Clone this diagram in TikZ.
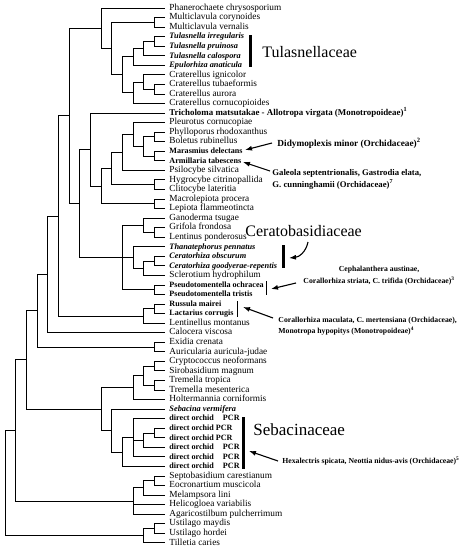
\documentclass[tikz,border=0pt]{standalone}
\usepackage{fontspec}
\setmainfont{Liberation Serif}
\usetikzlibrary{arrows.meta}
\begin{document}
\begin{tikzpicture}[x=1pt, y=-1pt, line width=.9pt,
  leaf/.style={anchor=west, inner xsep=4pt, inner ysep=0pt, text height=6.5pt, text depth=2pt, font=\fontsize{9.3}{10}\selectfont},
  leafb/.style={leaf, font=\fontsize{8.1}{10}\selectfont\bfseries},
  leafbi/.style={leaf, font=\fontsize{8.3}{10}\selectfont\bfseries\itshape},
  family/.style={anchor=west, inner sep=0pt, font=\fontsize{16}{18}\selectfont},
  note/.style={inner sep=0pt, font=\fontsize{7.7}{11.5}\selectfont\bfseries},
  bar/.style={line width=3pt},
  thinbar/.style={line width=1pt},
  arr/.style={-{Latex[length=7pt,width=5pt]}, line width=1.1pt}]
\useasboundingbox (0,0) rectangle (474,555);
\begin{scope}[x=10.667pt, y=-9.55pt, xshift=5pt, yshift=1.55pt]
% leaves
\node[leaf] (lf1) at (15,1) {Phanerochaete chrysosporium};
\node[leaf] (lf2) at (15,2) {Multiclavula corynoides};
\node[leaf] (lf3) at (15,3) {Multiclavula vernalis};
\node[leafbi] (lf4) at (15,4) {Tulasnella irregularis};
\node[leafbi] (lf5) at (15,5) {Tulasnella pruinosa};
\node[leafbi] (lf6) at (15,6) {Tulasnella calospora};
\node[leafbi] (lf7) at (15,7) {Epulorhiza anaticula};
\node[leaf] (lf8) at (15,8) {Craterellus ignicolor};
\node[leaf] (lf9) at (15,9) {Craterellus tubaeformis};
\node[leaf] (lf10) at (15,10) {Craterellus aurora};
\node[leaf] (lf11) at (15,11) {Craterellus cornucopioides};
\node[leafb, font=\fontsize{8.9}{10}\selectfont\bfseries] (lf12) at (15,12) {Tricholoma matsutakae - Allotropa virgata (Monotropoideae)\textsuperscript{1}};
\node[leaf] (lf13) at (15,13) {Pleurotus cornucopiae};
\node[leaf] (lf14) at (15,14) {Phylloporus rhodoxanthus};
\node[leaf] (lf15) at (15,15) {Boletus rubinellus};
\node[leafb] (lf16) at (15,16) {Marasmius delectans};
\node[leafb] (lf17) at (15,17) {Armillaria tabescens};
\node[leaf] (lf18) at (15,18) {Psilocybe silvatica};
\node[leaf] (lf19) at (15,19) {Hygrocybe citrinopallida};
\node[leaf] (lf20) at (15,20) {Clitocybe lateritia};
\node[leaf] (lf21) at (15,21) {Macrolepiota procera};
\node[leaf] (lf22) at (15,22) {Lepiota flammeotincta};
\node[leaf] (lf23) at (15,23) {Ganoderma tsugae};
\node[leaf] (lf24) at (15,24) {Grifola frondosa};
\node[leaf] (lf25) at (15,25) {Lentinus ponderosus};
\node[leafbi] (lf26) at (15,26) {Thanatephorus pennatus};
\node[leafbi] (lf27) at (15,27) {Ceratorhiza obscurum};
\node[leafbi] (lf28) at (15,28) {Ceratorhiza goodyerae-repentis};
\node[leaf] (lf29) at (15,29) {Sclerotium hydrophilum};
\node[leafb] (lf30) at (15,30) {Pseudotomentella ochracea};
\node[leafb] (lf31) at (15,31) {Pseudotomentella tristis};
\node[leafb] (lf32) at (15,32) {Russula mairei};
\node[leafb] (lf33) at (15,33) {Lactarius corrugis};
\node[leaf] (lf34) at (15,34) {Lentinellus montanus};
\node[leaf] (lf35) at (15,35) {Calocera viscosa};
\node[leaf] (lf36) at (15,36) {Exidia crenata};
\node[leaf] (lf37) at (15,37) {Auricularia auricula-judae};
\node[leaf] (lf38) at (15,38) {Cryptococcus neoformans};
\node[leaf] (lf39) at (15,39) {Sirobasidium magnum};
\node[leaf] (lf40) at (15,40) {Tremella tropica};
\node[leaf] (lf41) at (15,41) {Tremella mesenterica};
\node[leaf] (lf42) at (15,42) {Holtermannia corniformis};
\node[leafbi] (lf43) at (15,43) {Sebacina vermifera};
\node[leafb] (lf44) at (15,44) {direct orchid\hspace{7pt} PCR};
\node[leafb] (lf45) at (15,45) {direct orchid PCR};
\node[leafb] (lf46) at (15,46) {direct orchid PCR};
\node[leafb] (lf47) at (15,47) {direct orchid\hspace{7pt} PCR};
\node[leafb] (lf48) at (15,48) {direct orchid\hspace{7pt} PCR};
\node[leafb] (lf49) at (15,49) {direct orchid\hspace{7pt} PCR};
\node[leaf] (lf50) at (15,50) {Septobasidium carestianum};
\node[leaf] (lf51) at (15,51) {Eocronartium muscicola};
\node[leaf] (lf52) at (15,52) {Melampsora lini};
\node[leaf] (lf53) at (15,53) {Helicogloea variabilis};
\node[leaf] (lf54) at (15,54) {Agaricostilbum pulcherrimum};
\node[leaf] (lf55) at (15,55) {Ustilago maydis};
\node[leaf] (lf56) at (15,56) {Ustilago hordei};
\node[leaf] (lf57) at (15,57) {Tilletia caries};
% Tulasnella, Craterellus
\coordinate (cl1) at (14,4.5);
\draw (cl1) |- (lf4);
\draw (cl1) |- (lf5);
\coordinate (cl2) at (13,5.25);
\draw (cl2) |- (cl1);
\draw (cl2) |- (lf6);
\coordinate (cl3) at (12,6.125);
\draw (cl3) |- (cl2);
\draw (cl3) |- (lf7);
\coordinate (cl4) at (14,9.5);
\draw (cl4) |- (lf9);
\draw (cl4) |- (lf10);
\coordinate (cl5) at (13,8.75);
\draw (cl5) |- (lf8);
\draw (cl5) |- (cl4);
\coordinate (cl6) at (12,9.875);
\draw (cl6) |- (cl5);
\draw (cl6) |- (lf11);
\coordinate (cl7) at (11,8);
\draw (cl7) |- (cl3);
\draw (cl7) |- (cl6);
\coordinate (cl8) at (14,2.5);
\draw (cl8) |- (lf2);
\draw (cl8) |- (lf3);
\coordinate (cl9) at (10,5.25);
\draw (cl9) |- (cl8);
\draw (cl9) |- (cl7);
\coordinate (cl10) at (9,3.125);
\draw (cl10) |- (lf1);
\draw (cl10) |- (cl9);
% agarics
\coordinate (cl11) at (14,14.5);
\draw (cl11) |- (lf14);
\draw (cl11) |- (lf15);
\coordinate (cl12) at (14,16.5);
\draw (cl12) |- (lf16);
\draw (cl12) |- (lf17);
\coordinate (cl13) at (13,15.5);
\draw (cl13) |- (cl11);
\draw (cl13) |- (cl12);
\coordinate (cl14) at (12,14.25);
\draw (cl14) |- (lf13);
\draw (cl14) |- (cl13);
\coordinate (cl15) at (11,16.125);
\draw (cl15) |- (cl14);
\draw (cl15) |- (lf18);
\coordinate (cl16) at (14,19.5);
\draw (cl16) |- (lf19);
\draw (cl16) |- (lf20);
\coordinate (cl17) at (10,17.8125);
\draw (cl17) |- (cl15);
\draw (cl17) |- (cl16);
\coordinate (cl18) at (14,21.5);
\draw (cl18) |- (lf21);
\draw (cl18) |- (lf22);
\coordinate (cl19) at (9,19.65625);
\draw (cl19) |- (cl17);
\draw (cl19) |- (cl18);
\coordinate (cl20) at (8,15.828125);
\draw (cl20) |- (lf12);
\draw (cl20) |- (cl19);
% polypores, Ceratobasidiaceae, Pseudotomentella
\coordinate (cl21) at (14,24.5);
\draw (cl21) |- (lf24);
\draw (cl21) |- (lf25);
\coordinate (cl22) at (13,23.75);
\draw (cl22) |- (lf23);
\draw (cl22) |- (cl21);
\coordinate (cl23) at (14,27.5);
\draw (cl23) |- (lf27);
\draw (cl23) |- (lf28);
\coordinate (cl24) at (13,28.25);
\draw (cl24) |- (cl23);
\draw (cl24) |- (lf29);
\coordinate (cl25) at (12,27.125);
\draw (cl25) |- (lf26);
\draw (cl25) |- (cl24);
\coordinate (cl26) at (14,30.5);
\draw (cl26) |- (lf30);
\draw (cl26) |- (lf31);
\coordinate (cl27) at (11,27.125);
\draw (cl27) |- (cl22);
\draw (cl27) |- (cl25);
\draw (cl27) |- (cl26);
\coordinate (cl28) at (7,21.4765625);
\draw (cl28) |- (cl20);
\draw (cl28) |- (cl27);
\coordinate (cl29) at (6,12.30078);
\draw (cl29) |- (cl10);
\draw (cl29) |- (cl28);
% Russula
\coordinate (cl30) at (14,32.5);
\draw (cl30) |- (lf32);
\draw (cl30) |- (lf33);
\coordinate (cl31) at (13,33.25);
\draw (cl31) |- (cl30);
\draw (cl31) |- (lf34);
\coordinate (cl32) at (5,22.77539);
\draw (cl32) |- (cl29);
\draw (cl32) |- (cl31);
\coordinate (cl33) at (4,28.8877);
\draw (cl33) |- (cl32);
\draw (cl33) |- (lf35);
\coordinate (cl34) at (14,36.5);
\draw (cl34) |- (lf36);
\draw (cl34) |- (lf37);
\coordinate (cl35) at (3,32.69385);
\draw (cl35) |- (cl33);
\draw (cl35) |- (cl34);
% Tremellales, Sebacinaceae
\coordinate (cl36) at (14,38.5);
\draw (cl36) |- (lf38);
\draw (cl36) |- (lf39);
\coordinate (cl37) at (14,40.5);
\draw (cl37) |- (lf40);
\draw (cl37) |- (lf41);
\coordinate (cl38) at (13,39.5);
\draw (cl38) |- (cl36);
\draw (cl38) |- (cl37);
\coordinate (cl39) at (12,40.75);
\draw (cl39) |- (cl38);
\draw (cl39) |- (lf42);
\coordinate (cl40) at (14,45.5);
\draw (cl40) |- (lf45);
\draw (cl40) |- (lf46);
\coordinate (cl41) at (13,46.25);
\draw (cl41) |- (cl40);
\draw (cl41) |- (lf47);
\coordinate (cl42) at (12,46);
\draw (cl42) |- (lf44);
\draw (cl42) |- (cl41);
\draw (cl42) |- (lf48);
\coordinate (cl43) at (11,47.5);
\draw (cl43) |- (cl42);
\draw (cl43) |- (lf49);
\coordinate (cl44) at (10,45.25);
\draw (cl44) |- (lf43);
\draw (cl44) |- (cl43);
\coordinate (cl45) at (9,43);
\draw (cl45) |- (cl39);
\draw (cl45) |- (cl44);
\coordinate (cl46) at (2,37.8469);
\draw (cl46) |- (cl35);
\draw (cl46) |- (cl45);
% rusts and smuts
\coordinate (cl47) at (14,50.5);
\draw (cl47) |- (lf50);
\draw (cl47) |- (lf51);
\coordinate (cl48) at (13,51.25);
\draw (cl48) |- (cl47);
\draw (cl48) |- (lf52);
\coordinate (cl49) at (12,52.625);
\draw (cl49) |- (cl48);
\draw (cl49) |- (lf53);
\draw (cl49) |- (lf54);
\coordinate (cl50) at (1,45.236);
\draw (cl50) |- (cl46);
\draw (cl50) |- (cl49);
\coordinate (cl51) at (14,55.5);
\draw (cl51) |- (lf55);
\draw (cl51) |- (lf56);
\coordinate (cl52) at (13,56.25);
\draw (cl52) |- (cl51);
\draw (cl52) |- (lf57);
\coordinate (cl53) at (0,50.743);
\draw (cl53) |- (cl50);
\draw (cl53) |- (cl52);
\end{scope}
% families and orchid hosts
\draw[bar] (250,35) -- (250,67);
\node[family] (tula) at (262,52) {Tulasnellaceae};
\node[note, anchor=west, font=\fontsize{9.3}{11.5}\selectfont\bfseries] (didy) at (277,143) {Didymoplexis minor (Orchidaceae)\textsuperscript{2}};
\coordinate (didyT) at (272,143);
\coordinate (didyH) at (245,150);
\draw[arr] (didyT) -- (didyH);
\node[note, anchor=west, align=left, font=\fontsize{8.7}{12}\selectfont\bfseries] (gale) at (272,179) {Galeola septentrionalis, Gastrodia elata,\\G. cunninghamii (Orchidaceae)\textsuperscript{7}};
\coordinate (galeT) at (270,171);
\coordinate (galeH) at (243,162);
\draw[arr] (galeT) -- (galeH);
\node[family] (cera) at (245,231) {Ceratobasidiaceae};
\draw[bar] (283,245) -- (283,268);
\coordinate (ceraT) at (308,242);
\coordinate (ceraH) at (289,258);
\draw[arr] (ceraT) .. controls (306,252) and (299,257) .. (ceraH);
\node[note, align=center] (ceph) at (379,275.5) {Cephalanthera austinae,\\Corallorhiza striata, C. trifida (Orchidaceae)\textsuperscript{3}};
\draw[thinbar] (266,281) -- (266,295);
\coordinate (cephT) at (296,283);
\coordinate (cephH) at (271,289);
\draw[arr] (cephT) -- (cephH);
\draw[thinbar] (237,301) -- (237,317);
\node[note, anchor=west, align=left] (cora) at (278,326) {Corallorhiza maculata, C. mertensiana (Orchidaceae),\\Monotropa hypopitys (Monotropoideae)\textsuperscript{4}};
\coordinate (coraT) at (273,318);
\coordinate (coraH) at (243,307);
\draw[arr] (coraT) -- (coraH);
\draw[bar] (243,417) -- (243,469);
\node[family, font=\fontsize{17}{19}\selectfont] (seba) at (253,430) {Sebacinaceae};
\node[note, anchor=west] (hexa) at (282,461) {Hexalectris spicata, Neottia nidus-avis (Orchidaceae)\textsuperscript{5}};
\coordinate (hexaT) at (278,461);
\coordinate (hexaH) at (249,451);
\draw[arr] (hexaT) -- (hexaH);
\end{tikzpicture}
\end{document}
